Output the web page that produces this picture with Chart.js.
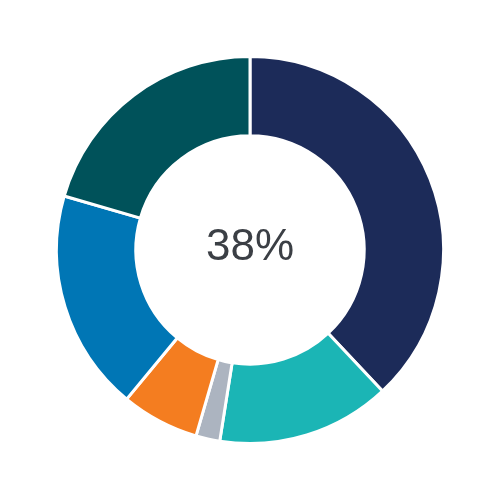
<!DOCTYPE html>
<html>
<head>
<meta charset="utf-8">
<script src="https://cdn.jsdelivr.net/npm/chart.js@4.4.0/dist/chart.umd.min.js"></script>
<style>
  html, body { margin: 0; padding: 0; background: #fff; }
  #wrap { width: 500px; height: 500px; }
</style>
</head>
<body>
<div id="wrap"><canvas id="myChart"></canvas></div>
<script>
var labels = ["A", "B", "C", "D", "E", "F"];
var values = [38, 14.5, 2, 6.5, 18.5, 20.5];
var colors = ["#1c2b59", "#1bb5b5", "#acb4c0", "#f47d20", "#0076b5", "#00525a"];
var centerText = "38%";

var centerLabel = {
    id: 'centerLabel',
    afterDraw: function (chart) {
        var arc = chart.getDatasetMeta(0).data[0];
        var ctx = chart.ctx;
        ctx.save();
        ctx.font = '44px "Liberation Sans", Arial, sans-serif';
        ctx.fillStyle = '#3b3f45';
        ctx.textAlign = 'center';
        ctx.textBaseline = 'middle';
        ctx.fillText(centerText, arc.x, arc.y - 2);
        ctx.restore();
    }
};

new Chart(document.getElementById('myChart'), {
    type: 'doughnut',
    data: {
        labels: labels,
        datasets: [{
            data: values,
            backgroundColor: colors,
            borderColor: '#ffffff',
            borderWidth: 3
        }]
    },
    options: {
        responsive: true,
        maintainAspectRatio: false,
        animation: false,
        cutout: '59%',
        layout: { padding: 55 },
        plugins: {
            legend: { display: false },
            tooltip: { enabled: false }
        }
    },
    plugins: [centerLabel]
});
</script>
</body>
</html>
